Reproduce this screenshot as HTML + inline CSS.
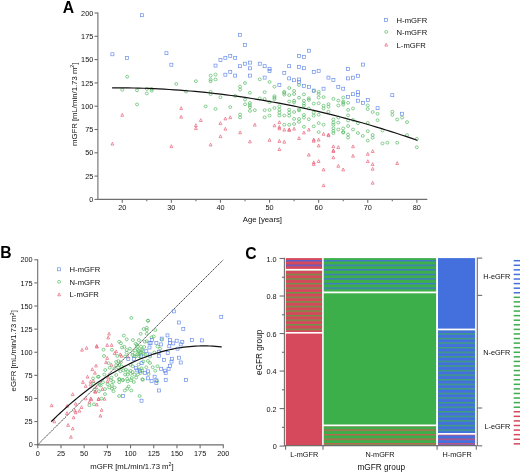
<!DOCTYPE html>
<html><head><meta charset="utf-8"><title>Figure</title>
<style>html,body{margin:0;padding:0;background:#fff}</style></head>
<body>
<svg width="520" height="473" viewBox="0 0 520 473" style="display:block;font-family:'Liberation Sans', Arial, sans-serif">
<rect width="520" height="473" fill="#fff"/>
<text x="62.70" y="13.00" font-size="15.7" font-weight="bold" fill="#000">A</text>
<g stroke="#6e6e6e" stroke-width="1.1" fill="none">
<path d="M97.90 12.50 V199.40 H427.30"/>
<path d="M97.90 199.40 H94.50"/>
<path d="M97.90 176.10 H94.50"/>
<path d="M97.90 152.80 H94.50"/>
<path d="M97.90 129.50 H94.50"/>
<path d="M97.90 106.20 H94.50"/>
<path d="M97.90 82.90 H94.50"/>
<path d="M97.90 59.60 H94.50"/>
<path d="M97.90 36.30 H94.50"/>
<path d="M97.90 13.00 H94.50"/>
<path d="M122.25 199.40 V202.80"/>
<path d="M171.35 199.40 V202.80"/>
<path d="M220.45 199.40 V202.80"/>
<path d="M269.55 199.40 V202.80"/>
<path d="M318.65 199.40 V202.80"/>
<path d="M367.75 199.40 V202.80"/>
<path d="M416.85 199.40 V202.80"/>
<path d="M146.80 199.40 V201.20"/>
<path d="M195.90 199.40 V201.20"/>
<path d="M245.00 199.40 V201.20"/>
<path d="M294.10 199.40 V201.20"/>
<path d="M343.20 199.40 V201.20"/>
<path d="M392.30 199.40 V201.20"/>
</g>
<text x="93.30" y="202.00" font-size="7.3" text-anchor="end" fill="#111">0</text>
<text x="93.30" y="178.70" font-size="7.3" text-anchor="end" fill="#111">25</text>
<text x="93.30" y="155.40" font-size="7.3" text-anchor="end" fill="#111">50</text>
<text x="93.30" y="132.10" font-size="7.3" text-anchor="end" fill="#111">75</text>
<text x="93.30" y="108.80" font-size="7.3" text-anchor="end" fill="#111">100</text>
<text x="93.30" y="85.50" font-size="7.3" text-anchor="end" fill="#111">125</text>
<text x="93.30" y="62.20" font-size="7.3" text-anchor="end" fill="#111">150</text>
<text x="93.30" y="38.90" font-size="7.3" text-anchor="end" fill="#111">175</text>
<text x="93.30" y="15.60" font-size="7.3" text-anchor="end" fill="#111">200</text>
<text x="122.25" y="210.30" font-size="7.3" text-anchor="middle" fill="#111">20</text>
<text x="171.35" y="210.30" font-size="7.3" text-anchor="middle" fill="#111">30</text>
<text x="220.45" y="210.30" font-size="7.3" text-anchor="middle" fill="#111">40</text>
<text x="269.55" y="210.30" font-size="7.3" text-anchor="middle" fill="#111">50</text>
<text x="318.65" y="210.30" font-size="7.3" text-anchor="middle" fill="#111">60</text>
<text x="367.75" y="210.30" font-size="7.3" text-anchor="middle" fill="#111">70</text>
<text x="416.85" y="210.30" font-size="7.3" text-anchor="middle" fill="#111">80</text>
<text x="262.40" y="222.30" font-size="7.75" text-anchor="middle" fill="#111">Age [years]</text>
<text x="76.60" y="104.30" font-size="7.75" text-anchor="middle" transform="rotate(-90 76.60 104.30)" fill="#111">mGFR [mL/min/1.73 m<tspan font-size="5.2" dy="-2.8">2</tspan><tspan dy="2.8">]</tspan></text>
<g fill="none" stroke-width="0.66">
<g stroke="#e65a72"><path d="M122.25 113.43 L123.67 116.28 L120.83 116.28 Z"/><path d="M112.43 142.23 L113.86 145.08 L111.01 145.08 Z"/><path d="M181.17 106.73 L182.60 109.58 L179.75 109.58 Z"/><path d="M181.17 115.33 L182.60 118.18 L179.75 118.18 Z"/><path d="M171.35 144.73 L172.78 147.58 L169.92 147.58 Z"/><path d="M195.90 123.73 L197.33 126.58 L194.47 126.58 Z"/><path d="M195.90 126.73 L197.33 129.58 L194.47 129.58 Z"/><path d="M200.81 118.63 L202.24 121.48 L199.38 121.48 Z"/><path d="M220.45 121.73 L221.88 124.58 L219.02 124.58 Z"/><path d="M220.45 134.83 L221.88 137.68 L219.02 137.68 Z"/><path d="M225.36 117.03 L226.79 119.88 L223.94 119.88 Z"/><path d="M225.36 127.33 L226.79 130.18 L223.94 130.18 Z"/><path d="M230.27 115.83 L231.70 118.68 L228.84 118.68 Z"/><path d="M240.09 130.93 L241.52 133.78 L238.66 133.78 Z"/><path d="M249.91 140.03 L251.34 142.88 L248.48 142.88 Z"/><path d="M254.82 123.23 L256.25 126.08 L253.39 126.08 Z"/><path d="M269.55 138.43 L270.98 141.28 L268.12 141.28 Z"/><path d="M274.46 123.93 L275.89 126.78 L273.04 126.78 Z"/><path d="M210.63 143.13 L212.06 145.98 L209.20 145.98 Z"/><path d="M279.37 120.73 L280.80 123.58 L277.94 123.58 Z"/><path d="M279.37 125.43 L280.80 128.28 L277.94 128.28 Z"/><path d="M279.37 126.93 L280.80 129.78 L277.94 129.78 Z"/><path d="M279.37 139.53 L280.80 142.38 L277.94 142.38 Z"/><path d="M279.37 147.73 L280.80 150.58 L277.94 150.58 Z"/><path d="M284.28 128.23 L285.70 131.08 L282.85 131.08 Z"/><path d="M284.28 140.33 L285.70 143.18 L282.85 143.18 Z"/><path d="M289.19 127.93 L290.62 130.78 L287.76 130.78 Z"/><path d="M289.19 128.53 L290.62 131.38 L287.76 131.38 Z"/><path d="M294.10 127.23 L295.53 130.08 L292.68 130.08 Z"/><path d="M299.01 136.63 L300.44 139.48 L297.58 139.48 Z"/><path d="M303.92 131.03 L305.35 133.88 L302.50 133.88 Z"/><path d="M308.83 128.13 L310.26 130.98 L307.41 130.98 Z"/><path d="M308.83 153.23 L310.26 156.08 L307.41 156.08 Z"/><path d="M313.74 138.03 L315.17 140.88 L312.31 140.88 Z"/><path d="M313.74 139.43 L315.17 142.28 L312.31 142.28 Z"/><path d="M313.74 160.83 L315.17 163.68 L312.31 163.68 Z"/><path d="M313.74 162.53 L315.17 165.38 L312.31 165.38 Z"/><path d="M318.65 138.18 L320.07 141.03 L317.22 141.03 Z"/><path d="M318.65 144.03 L320.07 146.88 L317.22 146.88 Z"/><path d="M318.65 159.63 L320.07 162.48 L317.22 162.48 Z"/><path d="M323.56 132.43 L324.99 135.28 L322.13 135.28 Z"/><path d="M323.56 168.03 L324.99 170.88 L322.13 170.88 Z"/><path d="M323.56 183.83 L324.99 186.68 L322.13 186.68 Z"/><path d="M328.47 133.03 L329.90 135.88 L327.05 135.88 Z"/><path d="M328.47 133.83 L329.90 136.68 L327.05 136.68 Z"/><path d="M333.38 144.83 L334.81 147.68 L331.95 147.68 Z"/><path d="M333.38 148.93 L334.81 151.78 L331.95 151.78 Z"/><path d="M333.38 149.73 L334.81 152.58 L331.95 152.58 Z"/><path d="M333.38 155.93 L334.81 158.78 L331.95 158.78 Z"/><path d="M338.29 145.63 L339.72 148.48 L336.87 148.48 Z"/><path d="M338.29 164.43 L339.72 167.28 L336.87 167.28 Z"/><path d="M343.20 168.03 L344.63 170.88 L341.78 170.88 Z"/><path d="M353.02 144.93 L354.44 147.78 L351.59 147.78 Z"/><path d="M353.02 154.33 L354.44 157.18 L351.59 157.18 Z"/><path d="M367.75 152.43 L369.18 155.28 L366.32 155.28 Z"/><path d="M367.75 159.73 L369.18 162.58 L366.32 162.58 Z"/><path d="M372.66 149.63 L374.08 152.48 L371.23 152.48 Z"/><path d="M372.66 162.63 L374.08 165.48 L371.23 165.48 Z"/><path d="M372.66 167.33 L374.08 170.18 L371.23 170.18 Z"/><path d="M372.66 181.33 L374.08 184.18 L371.23 184.18 Z"/><path d="M397.21 161.63 L398.64 164.48 L395.79 164.48 Z"/></g>
<g stroke="#4db65a"><ellipse cx="127.16" cy="76.70" rx="1.51" ry="1.40"/><ellipse cx="122.25" cy="89.80" rx="1.51" ry="1.40"/><ellipse cx="136.98" cy="90.30" rx="1.51" ry="1.40"/><ellipse cx="136.98" cy="104.40" rx="1.51" ry="1.40"/><ellipse cx="146.80" cy="89.00" rx="1.51" ry="1.40"/><ellipse cx="146.80" cy="93.40" rx="1.51" ry="1.40"/><ellipse cx="151.71" cy="89.00" rx="1.51" ry="1.40"/><ellipse cx="151.71" cy="90.70" rx="1.51" ry="1.40"/><ellipse cx="176.26" cy="83.90" rx="1.51" ry="1.40"/><ellipse cx="195.90" cy="81.20" rx="1.51" ry="1.40"/><ellipse cx="186.08" cy="91.50" rx="1.51" ry="1.40"/><ellipse cx="210.63" cy="75.60" rx="1.51" ry="1.40"/><ellipse cx="210.63" cy="79.50" rx="1.51" ry="1.40"/><ellipse cx="210.63" cy="81.30" rx="1.51" ry="1.40"/><ellipse cx="210.63" cy="91.90" rx="1.51" ry="1.40"/><ellipse cx="210.63" cy="94.10" rx="1.51" ry="1.40"/><ellipse cx="215.54" cy="74.50" rx="1.51" ry="1.40"/><ellipse cx="215.54" cy="79.40" rx="1.51" ry="1.40"/><ellipse cx="215.54" cy="108.90" rx="1.51" ry="1.40"/><ellipse cx="245.00" cy="83.00" rx="1.51" ry="1.40"/><ellipse cx="245.00" cy="99.70" rx="1.51" ry="1.40"/><ellipse cx="245.00" cy="104.30" rx="1.51" ry="1.40"/><ellipse cx="240.09" cy="86.60" rx="1.51" ry="1.40"/><ellipse cx="240.09" cy="89.60" rx="1.51" ry="1.40"/><ellipse cx="240.09" cy="114.50" rx="1.51" ry="1.40"/><ellipse cx="240.09" cy="117.30" rx="1.51" ry="1.40"/><ellipse cx="259.73" cy="79.30" rx="1.51" ry="1.40"/><ellipse cx="259.73" cy="98.40" rx="1.51" ry="1.40"/><ellipse cx="269.55" cy="82.00" rx="1.51" ry="1.40"/><ellipse cx="269.55" cy="102.10" rx="1.51" ry="1.40"/><ellipse cx="269.55" cy="110.00" rx="1.51" ry="1.40"/><ellipse cx="269.55" cy="115.60" rx="1.51" ry="1.40"/><ellipse cx="274.46" cy="86.70" rx="1.51" ry="1.40"/><ellipse cx="274.46" cy="96.20" rx="1.51" ry="1.40"/><ellipse cx="274.46" cy="97.70" rx="1.51" ry="1.40"/><ellipse cx="274.46" cy="99.20" rx="1.51" ry="1.40"/><ellipse cx="274.46" cy="108.00" rx="1.51" ry="1.40"/><ellipse cx="249.91" cy="92.80" rx="1.51" ry="1.40"/><ellipse cx="249.91" cy="103.00" rx="1.51" ry="1.40"/><ellipse cx="249.91" cy="105.20" rx="1.51" ry="1.40"/><ellipse cx="249.91" cy="107.10" rx="1.51" ry="1.40"/><ellipse cx="249.91" cy="110.90" rx="1.51" ry="1.40"/><ellipse cx="264.64" cy="92.20" rx="1.51" ry="1.40"/><ellipse cx="264.64" cy="99.00" rx="1.51" ry="1.40"/><ellipse cx="264.64" cy="110.20" rx="1.51" ry="1.40"/><ellipse cx="264.64" cy="117.30" rx="1.51" ry="1.40"/><ellipse cx="205.72" cy="106.40" rx="1.51" ry="1.40"/><ellipse cx="220.45" cy="97.20" rx="1.51" ry="1.40"/><ellipse cx="230.27" cy="107.10" rx="1.51" ry="1.40"/><ellipse cx="235.18" cy="95.90" rx="1.51" ry="1.40"/><ellipse cx="254.82" cy="110.20" rx="1.51" ry="1.40"/><ellipse cx="279.37" cy="106.40" rx="1.51" ry="1.40"/><ellipse cx="279.37" cy="109.70" rx="1.51" ry="1.40"/><ellipse cx="279.37" cy="112.60" rx="1.51" ry="1.40"/><ellipse cx="279.37" cy="115.50" rx="1.51" ry="1.40"/><ellipse cx="284.28" cy="91.80" rx="1.51" ry="1.40"/><ellipse cx="284.28" cy="92.90" rx="1.51" ry="1.40"/><ellipse cx="284.28" cy="94.60" rx="1.51" ry="1.40"/><ellipse cx="284.28" cy="115.50" rx="1.51" ry="1.40"/><ellipse cx="284.28" cy="124.70" rx="1.51" ry="1.40"/><ellipse cx="289.19" cy="88.00" rx="1.51" ry="1.40"/><ellipse cx="289.19" cy="95.10" rx="1.51" ry="1.40"/><ellipse cx="289.19" cy="101.50" rx="1.51" ry="1.40"/><ellipse cx="289.19" cy="109.70" rx="1.51" ry="1.40"/><ellipse cx="289.19" cy="112.60" rx="1.51" ry="1.40"/><ellipse cx="289.19" cy="115.70" rx="1.51" ry="1.40"/><ellipse cx="289.19" cy="124.70" rx="1.51" ry="1.40"/><ellipse cx="294.10" cy="90.90" rx="1.51" ry="1.40"/><ellipse cx="294.10" cy="94.00" rx="1.51" ry="1.40"/><ellipse cx="294.10" cy="100.70" rx="1.51" ry="1.40"/><ellipse cx="294.10" cy="102.50" rx="1.51" ry="1.40"/><ellipse cx="294.10" cy="112.00" rx="1.51" ry="1.40"/><ellipse cx="294.10" cy="118.90" rx="1.51" ry="1.40"/><ellipse cx="294.10" cy="124.00" rx="1.51" ry="1.40"/><ellipse cx="299.01" cy="85.00" rx="1.51" ry="1.40"/><ellipse cx="299.01" cy="97.75" rx="1.51" ry="1.40"/><ellipse cx="299.01" cy="109.40" rx="1.51" ry="1.40"/><ellipse cx="299.01" cy="110.40" rx="1.51" ry="1.40"/><ellipse cx="299.01" cy="118.90" rx="1.51" ry="1.40"/><ellipse cx="299.01" cy="121.90" rx="1.51" ry="1.40"/><ellipse cx="303.92" cy="94.40" rx="1.51" ry="1.40"/><ellipse cx="303.92" cy="100.70" rx="1.51" ry="1.40"/><ellipse cx="303.92" cy="103.60" rx="1.51" ry="1.40"/><ellipse cx="303.92" cy="105.70" rx="1.51" ry="1.40"/><ellipse cx="303.92" cy="114.90" rx="1.51" ry="1.40"/><ellipse cx="303.92" cy="117.60" rx="1.51" ry="1.40"/><ellipse cx="303.92" cy="126.80" rx="1.51" ry="1.40"/><ellipse cx="308.83" cy="98.30" rx="1.51" ry="1.40"/><ellipse cx="308.83" cy="99.90" rx="1.51" ry="1.40"/><ellipse cx="308.83" cy="108.50" rx="1.51" ry="1.40"/><ellipse cx="308.83" cy="119.20" rx="1.51" ry="1.40"/><ellipse cx="313.74" cy="90.90" rx="1.51" ry="1.40"/><ellipse cx="313.74" cy="103.60" rx="1.51" ry="1.40"/><ellipse cx="313.74" cy="112.60" rx="1.51" ry="1.40"/><ellipse cx="313.74" cy="115.70" rx="1.51" ry="1.40"/><ellipse cx="313.74" cy="126.30" rx="1.51" ry="1.40"/><ellipse cx="318.65" cy="91.80" rx="1.51" ry="1.40"/><ellipse cx="318.65" cy="94.00" rx="1.51" ry="1.40"/><ellipse cx="318.65" cy="97.50" rx="1.51" ry="1.40"/><ellipse cx="318.65" cy="103.25" rx="1.51" ry="1.40"/><ellipse cx="318.65" cy="114.70" rx="1.51" ry="1.40"/><ellipse cx="318.65" cy="123.10" rx="1.51" ry="1.40"/><ellipse cx="318.65" cy="132.10" rx="1.51" ry="1.40"/><ellipse cx="323.56" cy="97.10" rx="1.51" ry="1.40"/><ellipse cx="323.56" cy="105.70" rx="1.51" ry="1.40"/><ellipse cx="323.56" cy="108.50" rx="1.51" ry="1.40"/><ellipse cx="323.56" cy="124.70" rx="1.51" ry="1.40"/><ellipse cx="328.47" cy="104.10" rx="1.51" ry="1.40"/><ellipse cx="328.47" cy="106.70" rx="1.51" ry="1.40"/><ellipse cx="328.47" cy="111.70" rx="1.51" ry="1.40"/><ellipse cx="333.38" cy="98.80" rx="1.51" ry="1.40"/><ellipse cx="333.38" cy="119.40" rx="1.51" ry="1.40"/><ellipse cx="333.38" cy="122.60" rx="1.51" ry="1.40"/><ellipse cx="333.38" cy="124.70" rx="1.51" ry="1.40"/><ellipse cx="333.38" cy="128.20" rx="1.51" ry="1.40"/><ellipse cx="333.38" cy="130.90" rx="1.51" ry="1.40"/><ellipse cx="333.38" cy="133.10" rx="1.51" ry="1.40"/><ellipse cx="338.29" cy="100.60" rx="1.51" ry="1.40"/><ellipse cx="338.29" cy="105.50" rx="1.51" ry="1.40"/><ellipse cx="338.29" cy="117.60" rx="1.51" ry="1.40"/><ellipse cx="338.29" cy="122.60" rx="1.51" ry="1.40"/><ellipse cx="338.29" cy="129.50" rx="1.51" ry="1.40"/><ellipse cx="343.20" cy="97.50" rx="1.51" ry="1.40"/><ellipse cx="343.20" cy="101.50" rx="1.51" ry="1.40"/><ellipse cx="343.20" cy="102.80" rx="1.51" ry="1.40"/><ellipse cx="343.20" cy="104.60" rx="1.51" ry="1.40"/><ellipse cx="343.20" cy="128.40" rx="1.51" ry="1.40"/><ellipse cx="343.20" cy="132.00" rx="1.51" ry="1.40"/><ellipse cx="343.20" cy="132.60" rx="1.51" ry="1.40"/><ellipse cx="348.11" cy="102.80" rx="1.51" ry="1.40"/><ellipse cx="348.11" cy="109.90" rx="1.51" ry="1.40"/><ellipse cx="348.11" cy="115.40" rx="1.51" ry="1.40"/><ellipse cx="348.11" cy="120.50" rx="1.51" ry="1.40"/><ellipse cx="348.11" cy="126.00" rx="1.51" ry="1.40"/><ellipse cx="348.11" cy="134.50" rx="1.51" ry="1.40"/><ellipse cx="348.11" cy="137.60" rx="1.51" ry="1.40"/><ellipse cx="353.02" cy="108.50" rx="1.51" ry="1.40"/><ellipse cx="353.02" cy="119.90" rx="1.51" ry="1.40"/><ellipse cx="353.02" cy="129.50" rx="1.51" ry="1.40"/><ellipse cx="357.93" cy="123.30" rx="1.51" ry="1.40"/><ellipse cx="357.93" cy="133.00" rx="1.51" ry="1.40"/><ellipse cx="362.84" cy="135.90" rx="1.51" ry="1.40"/><ellipse cx="367.75" cy="105.40" rx="1.51" ry="1.40"/><ellipse cx="367.75" cy="109.10" rx="1.51" ry="1.40"/><ellipse cx="367.75" cy="122.90" rx="1.51" ry="1.40"/><ellipse cx="367.75" cy="131.20" rx="1.51" ry="1.40"/><ellipse cx="367.75" cy="140.60" rx="1.51" ry="1.40"/><ellipse cx="372.66" cy="112.00" rx="1.51" ry="1.40"/><ellipse cx="372.66" cy="135.00" rx="1.51" ry="1.40"/><ellipse cx="372.66" cy="137.80" rx="1.51" ry="1.40"/><ellipse cx="377.57" cy="113.75" rx="1.51" ry="1.40"/><ellipse cx="377.57" cy="120.20" rx="1.51" ry="1.40"/><ellipse cx="382.48" cy="130.60" rx="1.51" ry="1.40"/><ellipse cx="382.48" cy="143.50" rx="1.51" ry="1.40"/><ellipse cx="387.39" cy="142.70" rx="1.51" ry="1.40"/><ellipse cx="392.30" cy="111.70" rx="1.51" ry="1.40"/><ellipse cx="392.30" cy="114.80" rx="1.51" ry="1.40"/><ellipse cx="397.21" cy="119.50" rx="1.51" ry="1.40"/><ellipse cx="397.21" cy="142.70" rx="1.51" ry="1.40"/><ellipse cx="402.12" cy="117.60" rx="1.51" ry="1.40"/><ellipse cx="407.03" cy="122.10" rx="1.51" ry="1.40"/><ellipse cx="407.03" cy="135.10" rx="1.51" ry="1.40"/><ellipse cx="416.85" cy="138.80" rx="1.51" ry="1.40"/><ellipse cx="416.85" cy="147.30" rx="1.51" ry="1.40"/></g>
<g stroke="#6389e8"><rect x="140.39" y="13.70" width="3.00" height="3.00"/><rect x="110.93" y="52.80" width="3.00" height="3.00"/><rect x="125.66" y="56.40" width="3.00" height="3.00"/><rect x="164.94" y="51.70" width="3.00" height="3.00"/><rect x="169.85" y="63.20" width="3.00" height="3.00"/><rect x="238.59" y="33.30" width="3.00" height="3.00"/><rect x="243.50" y="43.40" width="3.00" height="3.00"/><rect x="243.50" y="62.20" width="3.00" height="3.00"/><rect x="214.04" y="64.10" width="3.00" height="3.00"/><rect x="218.95" y="58.50" width="3.00" height="3.00"/><rect x="223.86" y="56.30" width="3.00" height="3.00"/><rect x="223.86" y="73.20" width="3.00" height="3.00"/><rect x="228.77" y="54.60" width="3.00" height="3.00"/><rect x="228.77" y="70.40" width="3.00" height="3.00"/><rect x="233.68" y="56.30" width="3.00" height="3.00"/><rect x="233.68" y="74.10" width="3.00" height="3.00"/><rect x="238.59" y="64.70" width="3.00" height="3.00"/><rect x="248.41" y="61.10" width="3.00" height="3.00"/><rect x="248.41" y="66.80" width="3.00" height="3.00"/><rect x="248.41" y="74.10" width="3.00" height="3.00"/><rect x="258.23" y="62.20" width="3.00" height="3.00"/><rect x="263.14" y="64.70" width="3.00" height="3.00"/><rect x="263.14" y="76.10" width="3.00" height="3.00"/><rect x="268.05" y="67.60" width="3.00" height="3.00"/><rect x="268.05" y="69.50" width="3.00" height="3.00"/><rect x="277.87" y="83.40" width="3.00" height="3.00"/><rect x="282.78" y="71.50" width="3.00" height="3.00"/><rect x="287.69" y="64.70" width="3.00" height="3.00"/><rect x="287.69" y="76.90" width="3.00" height="3.00"/><rect x="292.60" y="78.70" width="3.00" height="3.00"/><rect x="297.51" y="54.60" width="3.00" height="3.00"/><rect x="297.51" y="65.60" width="3.00" height="3.00"/><rect x="297.51" y="78.00" width="3.00" height="3.00"/><rect x="297.51" y="80.30" width="3.00" height="3.00"/><rect x="302.42" y="55.60" width="3.00" height="3.00"/><rect x="302.42" y="66.70" width="3.00" height="3.00"/><rect x="302.42" y="84.30" width="3.00" height="3.00"/><rect x="307.33" y="49.20" width="3.00" height="3.00"/><rect x="307.33" y="85.30" width="3.00" height="3.00"/><rect x="312.24" y="70.40" width="3.00" height="3.00"/><rect x="312.24" y="89.10" width="3.00" height="3.00"/><rect x="317.15" y="69.30" width="3.00" height="3.00"/><rect x="322.06" y="87.20" width="3.00" height="3.00"/><rect x="326.97" y="76.10" width="3.00" height="3.00"/><rect x="331.88" y="78.40" width="3.00" height="3.00"/><rect x="336.79" y="85.30" width="3.00" height="3.00"/><rect x="341.70" y="87.20" width="3.00" height="3.00"/><rect x="346.61" y="67.60" width="3.00" height="3.00"/><rect x="346.61" y="76.90" width="3.00" height="3.00"/><rect x="346.61" y="95.50" width="3.00" height="3.00"/><rect x="351.52" y="76.20" width="3.00" height="3.00"/><rect x="351.52" y="92.70" width="3.00" height="3.00"/><rect x="356.43" y="74.25" width="3.00" height="3.00"/><rect x="356.43" y="90.70" width="3.00" height="3.00"/><rect x="356.43" y="93.40" width="3.00" height="3.00"/><rect x="356.43" y="99.20" width="3.00" height="3.00"/><rect x="361.34" y="63.10" width="3.00" height="3.00"/><rect x="361.34" y="101.30" width="3.00" height="3.00"/><rect x="366.25" y="98.50" width="3.00" height="3.00"/><rect x="376.07" y="106.70" width="3.00" height="3.00"/><rect x="390.80" y="93.70" width="3.00" height="3.00"/><rect x="400.62" y="112.25" width="3.00" height="3.00"/></g>
</g>
<path d="M112.50 87.85 L117.66 87.84 L122.82 87.87 L127.98 87.92 L133.14 88.01 L138.31 88.12 L143.47 88.27 L148.63 88.45 L153.79 88.66 L158.95 88.90 L164.11 89.17 L169.27 89.47 L174.43 89.80 L179.59 90.16 L184.75 90.56 L189.92 90.98 L195.08 91.44 L200.24 91.92 L205.40 92.44 L210.56 92.99 L215.72 93.57 L220.88 94.18 L226.04 94.82 L231.20 95.49 L236.36 96.19 L241.53 96.92 L246.69 97.69 L251.85 98.48 L257.01 99.31 L262.17 100.16 L267.33 101.05 L272.49 101.97 L277.65 102.92 L282.81 103.90 L287.97 104.91 L293.14 105.95 L298.30 107.02 L303.46 108.13 L308.62 109.26 L313.78 110.43 L318.94 111.62 L324.10 112.85 L329.26 114.11 L334.42 115.40 L339.58 116.71 L344.75 118.06 L349.91 119.45 L355.07 120.86 L360.23 122.30 L365.39 123.77 L370.55 125.28 L375.71 126.81 L380.87 128.38 L386.03 129.98 L391.19 131.61 L396.36 133.26 L401.52 134.95 L406.68 136.67 L411.84 138.43 L417.00 140.21" fill="none" stroke="#111" stroke-width="1.18" stroke-linecap="round"/>
<g fill="none" stroke-width="0.66">
<g stroke="#6389e8"><rect x="384.60" y="18.40" width="3.00" height="3.00"/></g>
<g stroke="#4db65a"><ellipse cx="386.20" cy="31.90" rx="1.51" ry="1.40"/></g>
<g stroke="#e65a72"><path d="M386.20 43.23 L387.62 46.08 L384.77 46.08 Z"/></g>
</g>
<text x="396.60" y="22.50" font-size="7.65" fill="#111">H-mGFR</text>
<text x="396.60" y="35.10" font-size="7.65" fill="#111">N-mGFR</text>
<text x="396.60" y="47.70" font-size="7.65" fill="#111">L-mGFR</text>
<text x="0.30" y="258.30" font-size="15.7" font-weight="bold" fill="#000">B</text>
<g stroke="#6e6e6e" stroke-width="1.1" fill="none">
<path d="M37.70 259.30 V444.90 H223.80"/>
<path d="M37.70 444.70 H34.30"/>
<path d="M37.80 444.90 V448.30"/>
<path d="M37.70 421.59 H34.30"/>
<path d="M60.99 444.90 V448.30"/>
<path d="M37.70 398.48 H34.30"/>
<path d="M84.17 444.90 V448.30"/>
<path d="M37.70 375.36 H34.30"/>
<path d="M107.36 444.90 V448.30"/>
<path d="M37.70 352.25 H34.30"/>
<path d="M130.55 444.90 V448.30"/>
<path d="M37.70 329.14 H34.30"/>
<path d="M153.74 444.90 V448.30"/>
<path d="M37.70 306.03 H34.30"/>
<path d="M176.93 444.90 V448.30"/>
<path d="M37.70 282.91 H34.30"/>
<path d="M200.11 444.90 V448.30"/>
<path d="M37.70 259.80 H34.30"/>
<path d="M223.30 444.90 V448.30"/>
</g>
<text x="32.70" y="447.30" font-size="7.3" text-anchor="end" fill="#111">0</text>
<text x="37.80" y="456.40" font-size="7.3" text-anchor="middle" fill="#111">0</text>
<text x="32.70" y="424.19" font-size="7.3" text-anchor="end" fill="#111">25</text>
<text x="60.99" y="456.40" font-size="7.3" text-anchor="middle" fill="#111">25</text>
<text x="32.70" y="401.08" font-size="7.3" text-anchor="end" fill="#111">50</text>
<text x="84.17" y="456.40" font-size="7.3" text-anchor="middle" fill="#111">50</text>
<text x="32.70" y="377.96" font-size="7.3" text-anchor="end" fill="#111">75</text>
<text x="107.36" y="456.40" font-size="7.3" text-anchor="middle" fill="#111">75</text>
<text x="32.70" y="354.85" font-size="7.3" text-anchor="end" fill="#111">100</text>
<text x="130.55" y="456.40" font-size="7.3" text-anchor="middle" fill="#111">100</text>
<text x="32.70" y="331.74" font-size="7.3" text-anchor="end" fill="#111">125</text>
<text x="153.74" y="456.40" font-size="7.3" text-anchor="middle" fill="#111">125</text>
<text x="32.70" y="308.63" font-size="7.3" text-anchor="end" fill="#111">150</text>
<text x="176.93" y="456.40" font-size="7.3" text-anchor="middle" fill="#111">150</text>
<text x="32.70" y="285.51" font-size="7.3" text-anchor="end" fill="#111">175</text>
<text x="200.11" y="456.40" font-size="7.3" text-anchor="middle" fill="#111">175</text>
<text x="32.70" y="262.40" font-size="7.3" text-anchor="end" fill="#111">200</text>
<text x="223.30" y="456.40" font-size="7.3" text-anchor="middle" fill="#111">200</text>
<text x="131.90" y="468.70" font-size="7.75" text-anchor="middle" fill="#111">mGFR [mL/min/1.73 m<tspan font-size="5.2" dy="-2.8">2</tspan><tspan dy="2.8">]</tspan></text>
<text x="16.30" y="350.80" font-size="7.75" text-anchor="middle" transform="rotate(-90 16.30 350.80)" fill="#111">eGFR [mL/min/1.73 m<tspan font-size="5.2" dy="-2.8">2</tspan><tspan dy="2.8">]</tspan></text>
<path d="M37.80 444.70 L223.30 259.80" stroke="#3a3a3a" stroke-width="0.95" stroke-dasharray="1.7 0.7" fill="none"/>
<g fill="none" stroke-width="0.66">
<g stroke="#e65a72"><path d="M82.00 348.33 L83.42 351.18 L80.58 351.18 Z"/><path d="M86.60 346.43 L88.02 349.28 L85.17 349.28 Z"/><path d="M96.60 344.43 L98.02 347.28 L95.17 347.28 Z"/><path d="M97.00 345.23 L98.42 348.08 L95.58 348.08 Z"/><path d="M96.00 364.13 L97.42 366.98 L94.58 366.98 Z"/><path d="M92.30 367.73 L93.72 370.58 L90.88 370.58 Z"/><path d="M94.90 371.33 L96.33 374.18 L93.48 374.18 Z"/><path d="M87.50 375.23 L88.92 378.08 L86.08 378.08 Z"/><path d="M82.90 380.53 L84.33 383.38 L81.48 383.38 Z"/><path d="M85.70 384.53 L87.12 387.38 L84.28 387.38 Z"/><path d="M90.50 380.03 L91.92 382.88 L89.08 382.88 Z"/><path d="M90.50 382.93 L91.92 385.78 L89.08 385.78 Z"/><path d="M93.40 379.43 L94.83 382.28 L91.98 382.28 Z"/><path d="M72.70 392.73 L74.12 395.58 L71.28 395.58 Z"/><path d="M51.60 403.83 L53.02 406.68 L50.18 406.68 Z"/><path d="M85.70 396.93 L87.12 399.78 L84.28 399.78 Z"/><path d="M90.80 397.03 L92.22 399.88 L89.38 399.88 Z"/><path d="M91.30 397.83 L92.72 400.68 L89.88 400.68 Z"/><path d="M89.40 400.43 L90.83 403.28 L87.98 403.28 Z"/><path d="M98.40 397.43 L99.83 400.28 L96.98 400.28 Z"/><path d="M96.80 403.03 L98.22 405.88 L95.38 405.88 Z"/><path d="M75.70 402.23 L77.12 405.08 L74.28 405.08 Z"/><path d="M81.50 405.73 L82.92 408.58 L80.08 408.58 Z"/><path d="M67.20 404.33 L68.62 407.18 L65.78 407.18 Z"/><path d="M74.90 409.03 L76.33 411.88 L73.48 411.88 Z"/><path d="M79.40 409.33 L80.83 412.18 L77.98 412.18 Z"/><path d="M94.90 390.03 L96.33 392.88 L93.48 392.88 Z"/><path d="M96.30 385.83 L97.72 388.68 L94.88 388.68 Z"/><path d="M75.70 410.93 L77.12 413.78 L74.28 413.78 Z"/><path d="M67.00 411.63 L68.42 414.48 L65.58 414.48 Z"/><path d="M73.60 415.93 L75.02 418.78 L72.17 418.78 Z"/><path d="M54.30 419.93 L55.72 422.78 L52.88 422.78 Z"/><path d="M68.10 423.53 L69.52 426.38 L66.67 426.38 Z"/><path d="M72.70 427.03 L74.12 429.88 L71.28 429.88 Z"/><path d="M70.90 435.43 L72.33 438.28 L69.48 438.28 Z"/><path d="M100.40 414.23 L101.83 417.08 L98.98 417.08 Z"/><path d="M109.00 332.23 L110.42 335.08 L107.58 335.08 Z"/><path d="M108.20 336.13 L109.62 338.98 L106.78 338.98 Z"/><path d="M107.20 343.53 L108.62 346.38 L105.78 346.38 Z"/><path d="M111.60 343.53 L113.02 346.38 L110.17 346.38 Z"/><path d="M116.20 349.93 L117.62 352.78 L114.78 352.78 Z"/><path d="M114.60 351.63 L116.02 354.48 L113.17 354.48 Z"/><path d="M120.20 352.83 L121.62 355.68 L118.78 355.68 Z"/><path d="M121.40 354.43 L122.83 357.28 L119.98 357.28 Z"/><path d="M107.20 356.53 L108.62 359.38 L105.78 359.38 Z"/><path d="M127.80 354.93 L129.22 357.78 L126.38 357.78 Z"/><path d="M106.00 360.73 L107.42 363.58 L104.58 363.58 Z"/><path d="M111.50 363.33 L112.92 366.18 L110.08 366.18 Z"/><path d="M108.20 376.03 L109.62 378.88 L106.78 378.88 Z"/><path d="M107.50 379.73 L108.92 382.58 L106.08 382.58 Z"/><path d="M102.40 387.53 L103.83 390.38 L100.98 390.38 Z"/><path d="M98.70 397.63 L100.12 400.48 L97.28 400.48 Z"/><path d="M104.50 397.33 L105.92 400.18 L103.08 400.18 Z"/><path d="M101.60 408.43 L103.02 411.28 L100.17 411.28 Z"/><path d="M95.50 390.18 L96.92 393.03 L94.08 393.03 Z"/></g>
<g stroke="#4db65a"><ellipse cx="93.10" cy="378.40" rx="1.51" ry="1.40"/><ellipse cx="97.90" cy="376.80" rx="1.51" ry="1.40"/><ellipse cx="93.65" cy="383.70" rx="1.51" ry="1.40"/><ellipse cx="94.70" cy="389.30" rx="1.51" ry="1.40"/><ellipse cx="98.90" cy="391.10" rx="1.51" ry="1.40"/><ellipse cx="89.40" cy="405.20" rx="1.51" ry="1.40"/><ellipse cx="93.90" cy="404.30" rx="1.51" ry="1.40"/><ellipse cx="99.50" cy="384.70" rx="1.51" ry="1.40"/><ellipse cx="131.30" cy="317.90" rx="1.51" ry="1.40"/><ellipse cx="147.90" cy="320.60" rx="1.51" ry="1.40"/><ellipse cx="143.65" cy="329.00" rx="1.51" ry="1.40"/><ellipse cx="146.80" cy="327.80" rx="1.51" ry="1.40"/><ellipse cx="146.80" cy="330.10" rx="1.51" ry="1.40"/><ellipse cx="140.70" cy="333.80" rx="1.51" ry="1.40"/><ellipse cx="146.80" cy="333.80" rx="1.51" ry="1.40"/><ellipse cx="123.80" cy="335.60" rx="1.51" ry="1.40"/><ellipse cx="126.70" cy="339.30" rx="1.51" ry="1.40"/><ellipse cx="132.90" cy="340.10" rx="1.51" ry="1.40"/><ellipse cx="138.90" cy="340.10" rx="1.51" ry="1.40"/><ellipse cx="119.10" cy="341.70" rx="1.51" ry="1.40"/><ellipse cx="120.90" cy="343.30" rx="1.51" ry="1.40"/><ellipse cx="135.70" cy="343.80" rx="1.51" ry="1.40"/><ellipse cx="136.80" cy="344.90" rx="1.51" ry="1.40"/><ellipse cx="144.70" cy="341.70" rx="1.51" ry="1.40"/><ellipse cx="146.80" cy="341.20" rx="1.51" ry="1.40"/><ellipse cx="122.00" cy="347.50" rx="1.51" ry="1.40"/><ellipse cx="124.30" cy="346.80" rx="1.51" ry="1.40"/><ellipse cx="103.50" cy="349.70" rx="1.51" ry="1.40"/><ellipse cx="111.90" cy="349.70" rx="1.51" ry="1.40"/><ellipse cx="126.70" cy="349.90" rx="1.51" ry="1.40"/><ellipse cx="129.90" cy="348.70" rx="1.51" ry="1.40"/><ellipse cx="141.00" cy="346.50" rx="1.51" ry="1.40"/><ellipse cx="144.20" cy="347.00" rx="1.51" ry="1.40"/><ellipse cx="137.80" cy="349.70" rx="1.51" ry="1.40"/><ellipse cx="142.60" cy="350.00" rx="1.51" ry="1.40"/><ellipse cx="126.70" cy="352.60" rx="1.51" ry="1.40"/><ellipse cx="132.50" cy="352.60" rx="1.51" ry="1.40"/><ellipse cx="138.40" cy="353.40" rx="1.51" ry="1.40"/><ellipse cx="141.50" cy="352.80" rx="1.51" ry="1.40"/><ellipse cx="132.50" cy="355.00" rx="1.51" ry="1.40"/><ellipse cx="104.00" cy="356.00" rx="1.51" ry="1.40"/><ellipse cx="117.30" cy="356.00" rx="1.51" ry="1.40"/><ellipse cx="125.10" cy="356.50" rx="1.51" ry="1.40"/><ellipse cx="135.70" cy="356.50" rx="1.51" ry="1.40"/><ellipse cx="139.40" cy="356.50" rx="1.51" ry="1.40"/><ellipse cx="143.65" cy="353.90" rx="1.51" ry="1.40"/><ellipse cx="108.60" cy="363.20" rx="1.51" ry="1.40"/><ellipse cx="116.20" cy="361.90" rx="1.51" ry="1.40"/><ellipse cx="118.30" cy="361.10" rx="1.51" ry="1.40"/><ellipse cx="120.80" cy="362.30" rx="1.51" ry="1.40"/><ellipse cx="116.20" cy="365.30" rx="1.51" ry="1.40"/><ellipse cx="119.10" cy="364.90" rx="1.51" ry="1.40"/><ellipse cx="109.80" cy="367.80" rx="1.51" ry="1.40"/><ellipse cx="105.20" cy="370.00" rx="1.51" ry="1.40"/><ellipse cx="114.50" cy="368.30" rx="1.51" ry="1.40"/><ellipse cx="118.30" cy="367.40" rx="1.51" ry="1.40"/><ellipse cx="121.70" cy="366.60" rx="1.51" ry="1.40"/><ellipse cx="104.30" cy="374.60" rx="1.51" ry="1.40"/><ellipse cx="116.20" cy="375.00" rx="1.51" ry="1.40"/><ellipse cx="120.40" cy="371.20" rx="1.51" ry="1.40"/><ellipse cx="123.40" cy="370.40" rx="1.51" ry="1.40"/><ellipse cx="125.90" cy="369.50" rx="1.51" ry="1.40"/><ellipse cx="127.60" cy="371.20" rx="1.51" ry="1.40"/><ellipse cx="130.60" cy="370.80" rx="1.51" ry="1.40"/><ellipse cx="132.70" cy="372.10" rx="1.51" ry="1.40"/><ellipse cx="125.10" cy="374.60" rx="1.51" ry="1.40"/><ellipse cx="127.60" cy="374.60" rx="1.51" ry="1.40"/><ellipse cx="130.60" cy="373.80" rx="1.51" ry="1.40"/><ellipse cx="134.40" cy="374.60" rx="1.51" ry="1.40"/><ellipse cx="137.80" cy="374.60" rx="1.51" ry="1.40"/><ellipse cx="111.50" cy="377.60" rx="1.51" ry="1.40"/><ellipse cx="119.10" cy="379.30" rx="1.51" ry="1.40"/><ellipse cx="122.50" cy="379.90" rx="1.51" ry="1.40"/><ellipse cx="127.20" cy="378.80" rx="1.51" ry="1.40"/><ellipse cx="131.80" cy="378.00" rx="1.51" ry="1.40"/><ellipse cx="136.10" cy="377.60" rx="1.51" ry="1.40"/><ellipse cx="113.30" cy="381.80" rx="1.51" ry="1.40"/><ellipse cx="119.20" cy="382.20" rx="1.51" ry="1.40"/><ellipse cx="127.70" cy="381.30" rx="1.51" ry="1.40"/><ellipse cx="133.80" cy="382.00" rx="1.51" ry="1.40"/><ellipse cx="98.80" cy="376.70" rx="1.51" ry="1.40"/><ellipse cx="103.00" cy="382.20" rx="1.51" ry="1.40"/><ellipse cx="130.60" cy="364.90" rx="1.51" ry="1.40"/><ellipse cx="132.70" cy="366.20" rx="1.51" ry="1.40"/><ellipse cx="138.60" cy="364.50" rx="1.51" ry="1.40"/><ellipse cx="134.40" cy="356.00" rx="1.51" ry="1.40"/><ellipse cx="137.30" cy="354.30" rx="1.51" ry="1.40"/><ellipse cx="138.60" cy="350.90" rx="1.51" ry="1.40"/><ellipse cx="135.20" cy="350.50" rx="1.51" ry="1.40"/><ellipse cx="137.80" cy="346.70" rx="1.51" ry="1.40"/><ellipse cx="140.30" cy="353.00" rx="1.51" ry="1.40"/><ellipse cx="140.70" cy="372.90" rx="1.51" ry="1.40"/><ellipse cx="139.00" cy="369.50" rx="1.51" ry="1.40"/><ellipse cx="148.10" cy="320.80" rx="1.51" ry="1.40"/><ellipse cx="155.30" cy="330.10" rx="1.51" ry="1.40"/><ellipse cx="151.60" cy="337.20" rx="1.51" ry="1.40"/><ellipse cx="153.75" cy="336.50" rx="1.51" ry="1.40"/><ellipse cx="161.70" cy="339.70" rx="1.51" ry="1.40"/><ellipse cx="157.50" cy="346.50" rx="1.51" ry="1.40"/><ellipse cx="141.60" cy="349.80" rx="1.51" ry="1.40"/><ellipse cx="145.30" cy="354.50" rx="1.51" ry="1.40"/><ellipse cx="154.30" cy="352.40" rx="1.51" ry="1.40"/><ellipse cx="160.10" cy="348.70" rx="1.51" ry="1.40"/><ellipse cx="150.00" cy="356.60" rx="1.51" ry="1.40"/><ellipse cx="143.20" cy="361.40" rx="1.51" ry="1.40"/><ellipse cx="147.90" cy="360.90" rx="1.51" ry="1.40"/><ellipse cx="150.00" cy="363.00" rx="1.51" ry="1.40"/><ellipse cx="146.30" cy="367.20" rx="1.51" ry="1.40"/><ellipse cx="141.60" cy="368.30" rx="1.51" ry="1.40"/><ellipse cx="152.70" cy="367.20" rx="1.51" ry="1.40"/><ellipse cx="157.50" cy="366.20" rx="1.51" ry="1.40"/><ellipse cx="155.30" cy="370.70" rx="1.51" ry="1.40"/><ellipse cx="148.50" cy="374.10" rx="1.51" ry="1.40"/><ellipse cx="142.40" cy="379.20" rx="1.51" ry="1.40"/><ellipse cx="142.80" cy="379.80" rx="1.51" ry="1.40"/><ellipse cx="156.90" cy="381.00" rx="1.51" ry="1.40"/><ellipse cx="142.10" cy="370.40" rx="1.51" ry="1.40"/><ellipse cx="119.10" cy="396.00" rx="1.51" ry="1.40"/><ellipse cx="139.60" cy="396.00" rx="1.51" ry="1.40"/><ellipse cx="131.00" cy="380.10" rx="1.51" ry="1.40"/><ellipse cx="128.60" cy="386.50" rx="1.51" ry="1.40"/><ellipse cx="127.30" cy="388.60" rx="1.51" ry="1.40"/><ellipse cx="124.80" cy="390.50" rx="1.51" ry="1.40"/><ellipse cx="131.30" cy="390.50" rx="1.51" ry="1.40"/><ellipse cx="111.90" cy="384.90" rx="1.51" ry="1.40"/><ellipse cx="114.60" cy="387.50" rx="1.51" ry="1.40"/><ellipse cx="111.90" cy="388.60" rx="1.51" ry="1.40"/><ellipse cx="113.50" cy="391.20" rx="1.51" ry="1.40"/><ellipse cx="109.30" cy="387.50" rx="1.51" ry="1.40"/><ellipse cx="105.00" cy="389.10" rx="1.51" ry="1.40"/><ellipse cx="105.00" cy="394.10" rx="1.51" ry="1.40"/><ellipse cx="101.60" cy="398.60" rx="1.51" ry="1.40"/><ellipse cx="100.80" cy="385.40" rx="1.51" ry="1.40"/><ellipse cx="107.70" cy="384.30" rx="1.51" ry="1.40"/><ellipse cx="110.90" cy="380.10" rx="1.51" ry="1.40"/><ellipse cx="123.00" cy="380.10" rx="1.51" ry="1.40"/><ellipse cx="119.30" cy="379.10" rx="1.51" ry="1.40"/></g>
<g stroke="#6389e8"><rect x="148.00" y="341.30" width="3.00" height="3.00"/><rect x="148.00" y="346.00" width="3.00" height="3.00"/><rect x="144.80" y="349.75" width="3.00" height="3.00"/><rect x="139.50" y="355.00" width="3.00" height="3.00"/><rect x="132.60" y="357.40" width="3.00" height="3.00"/><rect x="126.80" y="357.40" width="3.00" height="3.00"/><rect x="134.60" y="366.30" width="3.00" height="3.00"/><rect x="135.80" y="368.90" width="3.00" height="3.00"/><rect x="138.40" y="369.70" width="3.00" height="3.00"/><rect x="140.10" y="361.70" width="3.00" height="3.00"/><rect x="172.30" y="309.90" width="3.00" height="3.00"/><rect x="177.30" y="321.00" width="3.00" height="3.00"/><rect x="181.80" y="327.50" width="3.00" height="3.00"/><rect x="166.00" y="333.90" width="3.00" height="3.00"/><rect x="160.20" y="337.10" width="3.00" height="3.00"/><rect x="168.60" y="338.50" width="3.00" height="3.00"/><rect x="175.20" y="339.20" width="3.00" height="3.00"/><rect x="180.80" y="340.30" width="3.00" height="3.00"/><rect x="190.30" y="338.50" width="3.00" height="3.00"/><rect x="150.30" y="338.50" width="3.00" height="3.00"/><rect x="149.10" y="341.70" width="3.00" height="3.00"/><rect x="154.90" y="341.30" width="3.00" height="3.00"/><rect x="159.30" y="342.90" width="3.00" height="3.00"/><rect x="168.60" y="341.30" width="3.00" height="3.00"/><rect x="171.80" y="341.90" width="3.00" height="3.00"/><rect x="179.20" y="342.90" width="3.00" height="3.00"/><rect x="167.80" y="344.80" width="3.00" height="3.00"/><rect x="176.00" y="347.20" width="3.00" height="3.00"/><rect x="148.50" y="353.00" width="3.00" height="3.00"/><rect x="157.30" y="350.40" width="3.00" height="3.00"/><rect x="157.30" y="354.60" width="3.00" height="3.00"/><rect x="166.20" y="351.40" width="3.00" height="3.00"/><rect x="162.60" y="358.30" width="3.00" height="3.00"/><rect x="170.50" y="357.25" width="3.00" height="3.00"/><rect x="170.00" y="360.10" width="3.00" height="3.00"/><rect x="177.60" y="356.20" width="3.00" height="3.00"/><rect x="179.20" y="361.00" width="3.00" height="3.00"/><rect x="168.60" y="364.40" width="3.00" height="3.00"/><rect x="159.70" y="367.30" width="3.00" height="3.00"/><rect x="167.10" y="367.30" width="3.00" height="3.00"/><rect x="163.40" y="369.20" width="3.00" height="3.00"/><rect x="164.20" y="371.50" width="3.00" height="3.00"/><rect x="146.40" y="369.90" width="3.00" height="3.00"/><rect x="143.30" y="371.50" width="3.00" height="3.00"/><rect x="146.40" y="376.80" width="3.00" height="3.00"/><rect x="153.10" y="375.20" width="3.00" height="3.00"/><rect x="150.10" y="379.50" width="3.00" height="3.00"/><rect x="154.90" y="378.90" width="3.00" height="3.00"/><rect x="154.90" y="381.60" width="3.00" height="3.00"/><rect x="164.20" y="378.40" width="3.00" height="3.00"/><rect x="184.50" y="378.40" width="3.00" height="3.00"/><rect x="157.50" y="389.00" width="3.00" height="3.00"/><rect x="121.50" y="394.50" width="3.00" height="3.00"/><rect x="140.00" y="399.20" width="3.00" height="3.00"/><rect x="219.75" y="315.50" width="3.00" height="3.00"/><rect x="200.30" y="338.90" width="3.00" height="3.00"/></g>
</g>
<path d="M51.60 421.29 L54.48 418.47 L57.35 415.70 L60.23 412.99 L63.10 410.33 L65.98 407.72 L68.85 405.17 L71.73 402.67 L74.60 400.22 L77.48 397.83 L80.35 395.49 L83.23 393.21 L86.11 390.98 L88.98 388.80 L91.86 386.68 L94.73 384.61 L97.61 382.60 L100.48 380.64 L103.36 378.73 L106.23 376.88 L109.11 375.08 L111.98 373.33 L114.86 371.64 L117.73 370.00 L120.61 368.42 L123.49 366.89 L126.36 365.41 L129.24 363.99 L132.11 362.62 L134.99 361.30 L137.86 360.04 L140.74 358.83 L143.61 357.68 L146.49 356.58 L149.36 355.53 L152.24 354.54 L155.12 353.60 L157.99 352.72 L160.87 351.89 L163.74 351.11 L166.62 350.39 L169.49 349.72 L172.37 349.10 L175.24 348.54 L178.12 348.03 L180.99 347.58 L183.87 347.18 L186.74 346.83 L189.62 346.54 L192.50 346.30 L195.37 346.11 L198.25 345.98 L201.12 345.91 L204.00 345.88 L206.87 345.91 L209.75 346.00 L212.62 346.13 L215.50 346.33 L218.37 346.57 L221.25 346.87" fill="none" stroke="#111" stroke-width="1.18" stroke-linecap="round"/>
<g fill="none" stroke-width="0.66">
<g stroke="#6389e8"><rect x="57.60" y="267.80" width="3.00" height="3.00"/></g>
<g stroke="#4db65a"><ellipse cx="59.10" cy="281.80" rx="1.51" ry="1.40"/></g>
<g stroke="#e65a72"><path d="M59.10 292.93 L60.52 295.78 L57.68 295.78 Z"/></g>
</g>
<text x="69.60" y="271.90" font-size="7.65" fill="#111">H-mGFR</text>
<text x="69.60" y="284.50" font-size="7.65" fill="#111">N-mGFR</text>
<text x="69.60" y="297.10" font-size="7.65" fill="#111">L-mGFR</text>
<text x="245.20" y="258.60" font-size="15.7" font-weight="bold" fill="#000">C</text>
<defs>
<pattern id="prb" patternUnits="userSpaceOnUse" x="0" y="259.980" width="10" height="4.578"><rect width="10" height="4.578" fill="#d6485c"/><rect y="0" width="10" height="1.45" fill="#5660cc"/></pattern>
<pattern id="prg" patternUnits="userSpaceOnUse" x="0" y="259.980" width="10" height="4.578"><rect width="10" height="4.578" fill="#d6485c"/><rect y="0" width="10" height="1.45" fill="#6b9848"/></pattern>
<pattern id="pgb" patternUnits="userSpaceOnUse" x="0" y="259.980" width="10" height="4.578"><rect width="10" height="4.578" fill="#3cae4a"/><rect y="0" width="10" height="1.45" fill="#4078cc"/></pattern>
<pattern id="pgr" patternUnits="userSpaceOnUse" x="0" y="259.980" width="10" height="4.578"><rect width="10" height="4.578" fill="#3cae4a"/><rect y="0" width="10" height="1.45" fill="#bd6650"/></pattern>
<pattern id="pbg" patternUnits="userSpaceOnUse" x="0" y="259.980" width="10" height="4.578"><rect width="10" height="4.578" fill="#4470de"/><rect y="0" width="10" height="1.45" fill="#3fa078"/></pattern>
<pattern id="pbr" patternUnits="userSpaceOnUse" x="0" y="259.980" width="10" height="4.578"><rect width="10" height="4.578" fill="#4470de"/><rect y="0" width="10" height="1.45" fill="#c0527c"/></pattern>
</defs>
<rect x="285.80" y="258.10" width="36.30" height="10.80" fill="url(#prb)"/>
<rect x="285.80" y="270.60" width="36.30" height="61.40" fill="url(#prg)"/>
<rect x="285.80" y="333.60" width="36.30" height="111.40" fill="#d6485c"/>
<rect x="323.70" y="258.10" width="112.40" height="33.40" fill="url(#pgb)"/>
<rect x="323.70" y="293.30" width="112.40" height="131.20" fill="#3cae4a"/>
<rect x="323.70" y="426.20" width="112.40" height="18.80" fill="url(#pgr)"/>
<rect x="438.00" y="258.10" width="37.10" height="70.50" fill="#4470de"/>
<rect x="438.00" y="330.30" width="37.10" height="102.70" fill="url(#pbg)"/>
<rect x="438.00" y="434.70" width="37.10" height="10.30" fill="url(#pbr)"/>
<g stroke="#6e6e6e" stroke-width="1.1" fill="none">
<path d="M284.4 257.70 V445.6 H476.3"/>
<path d="M284.4 446.10 H279.60"/>
<path d="M284.4 427.34 H281.90"/>
<path d="M284.4 408.58 H279.60"/>
<path d="M284.4 389.82 H281.90"/>
<path d="M284.4 371.06 H279.60"/>
<path d="M284.4 352.30 H281.90"/>
<path d="M284.4 333.54 H279.60"/>
<path d="M284.4 314.78 H281.90"/>
<path d="M284.4 296.02 H279.60"/>
<path d="M284.4 277.26 H281.90"/>
<path d="M284.4 258.50 H279.60"/>
<path d="M285.60 445.6 V449.8"/>
<path d="M323.00 445.6 V449.8"/>
<path d="M437.10 445.6 V449.8"/>
<path d="M476.30 445.6 V449.8"/>
<path d="M477.3 257.70 V446.0"/>
<path d="M477.3 258.10 H482.2"/>
<path d="M477.3 295.40 H482.2"/>
<path d="M477.3 408.00 H482.2"/>
<path d="M477.3 445.80 H482.2"/>
</g>
<text x="276.70" y="261.60" font-size="7.3" text-anchor="end" fill="#111">1.0</text>
<text x="276.70" y="299.12" font-size="7.3" text-anchor="end" fill="#111">0.8</text>
<text x="276.70" y="336.64" font-size="7.3" text-anchor="end" fill="#111">0.6</text>
<text x="276.70" y="374.16" font-size="7.3" text-anchor="end" fill="#111">0.4</text>
<text x="276.70" y="411.68" font-size="7.3" text-anchor="end" fill="#111">0.2</text>
<text x="276.70" y="449.20" font-size="7.3" text-anchor="end" fill="#111">0</text>
<text x="304.20" y="457.30" font-size="7.3" text-anchor="middle" fill="#111">L-mGFR</text>
<text x="380.00" y="457.30" font-size="7.3" text-anchor="middle" fill="#111">N-mGFR</text>
<text x="457.10" y="457.30" font-size="7.3" text-anchor="middle" fill="#111">H-mGFR</text>
<text x="381.30" y="470.30" font-size="8.25" text-anchor="middle" fill="#111">mGFR group</text>
<text x="261.60" y="352.30" font-size="8.25" text-anchor="middle" transform="rotate(-90 261.60 352.30)" fill="#111">eGFR group</text>
<text x="483.20" y="279.30" font-size="7.3" fill="#111">H-eGFR</text>
<text x="483.20" y="354.60" font-size="7.3" fill="#111">N-eGFR</text>
<text x="484.40" y="429.40" font-size="7.3" fill="#111">L-eGFR</text>
<rect x="513.7" y="259.95" width="6.3" height="1.5" fill="#4470de"/>
<rect x="513.7" y="264.53" width="6.3" height="1.5" fill="#4470de"/>
<rect x="513.7" y="269.11" width="6.3" height="1.5" fill="#4470de"/>
<rect x="513.7" y="273.68" width="6.3" height="1.5" fill="#4470de"/>
<rect x="513.7" y="278.26" width="6.3" height="1.5" fill="#4470de"/>
<rect x="513.7" y="282.84" width="6.3" height="1.5" fill="#4470de"/>
<rect x="513.7" y="287.42" width="6.3" height="1.5" fill="#4470de"/>
<rect x="513.7" y="292.00" width="6.3" height="1.5" fill="#4470de"/>
<rect x="513.7" y="296.57" width="6.3" height="1.5" fill="#3cae4a"/>
<rect x="513.7" y="301.15" width="6.3" height="1.5" fill="#3cae4a"/>
<rect x="513.7" y="305.73" width="6.3" height="1.5" fill="#3cae4a"/>
<rect x="513.7" y="310.31" width="6.3" height="1.5" fill="#3cae4a"/>
<rect x="513.7" y="314.89" width="6.3" height="1.5" fill="#3cae4a"/>
<rect x="513.7" y="319.46" width="6.3" height="1.5" fill="#3cae4a"/>
<rect x="513.7" y="324.04" width="6.3" height="1.5" fill="#3cae4a"/>
<rect x="513.7" y="328.62" width="6.3" height="1.5" fill="#3cae4a"/>
<rect x="513.7" y="333.20" width="6.3" height="1.5" fill="#3cae4a"/>
<rect x="513.7" y="337.78" width="6.3" height="1.5" fill="#3cae4a"/>
<rect x="513.7" y="342.35" width="6.3" height="1.5" fill="#3cae4a"/>
<rect x="513.7" y="346.93" width="6.3" height="1.5" fill="#3cae4a"/>
<rect x="513.7" y="351.51" width="6.3" height="1.5" fill="#3cae4a"/>
<rect x="513.7" y="356.09" width="6.3" height="1.5" fill="#3cae4a"/>
<rect x="513.7" y="360.67" width="6.3" height="1.5" fill="#3cae4a"/>
<rect x="513.7" y="365.24" width="6.3" height="1.5" fill="#3cae4a"/>
<rect x="513.7" y="369.82" width="6.3" height="1.5" fill="#3cae4a"/>
<rect x="513.7" y="374.40" width="6.3" height="1.5" fill="#3cae4a"/>
<rect x="513.7" y="378.98" width="6.3" height="1.5" fill="#3cae4a"/>
<rect x="513.7" y="383.56" width="6.3" height="1.5" fill="#3cae4a"/>
<rect x="513.7" y="388.13" width="6.3" height="1.5" fill="#3cae4a"/>
<rect x="513.7" y="392.71" width="6.3" height="1.5" fill="#3cae4a"/>
<rect x="513.7" y="397.29" width="6.3" height="1.5" fill="#3cae4a"/>
<rect x="513.7" y="401.87" width="6.3" height="1.5" fill="#3cae4a"/>
<rect x="513.7" y="406.45" width="6.3" height="1.5" fill="#3cae4a"/>
<rect x="513.7" y="411.02" width="6.3" height="1.5" fill="#d6485c"/>
<rect x="513.7" y="415.60" width="6.3" height="1.5" fill="#d6485c"/>
<rect x="513.7" y="420.18" width="6.3" height="1.5" fill="#d6485c"/>
<rect x="513.7" y="424.76" width="6.3" height="1.5" fill="#d6485c"/>
<rect x="513.7" y="429.34" width="6.3" height="1.5" fill="#d6485c"/>
<rect x="513.7" y="433.91" width="6.3" height="1.5" fill="#d6485c"/>
<rect x="513.7" y="438.49" width="6.3" height="1.5" fill="#d6485c"/>
<rect x="513.7" y="443.07" width="6.3" height="1.5" fill="#d6485c"/>
</svg>
</body></html>
